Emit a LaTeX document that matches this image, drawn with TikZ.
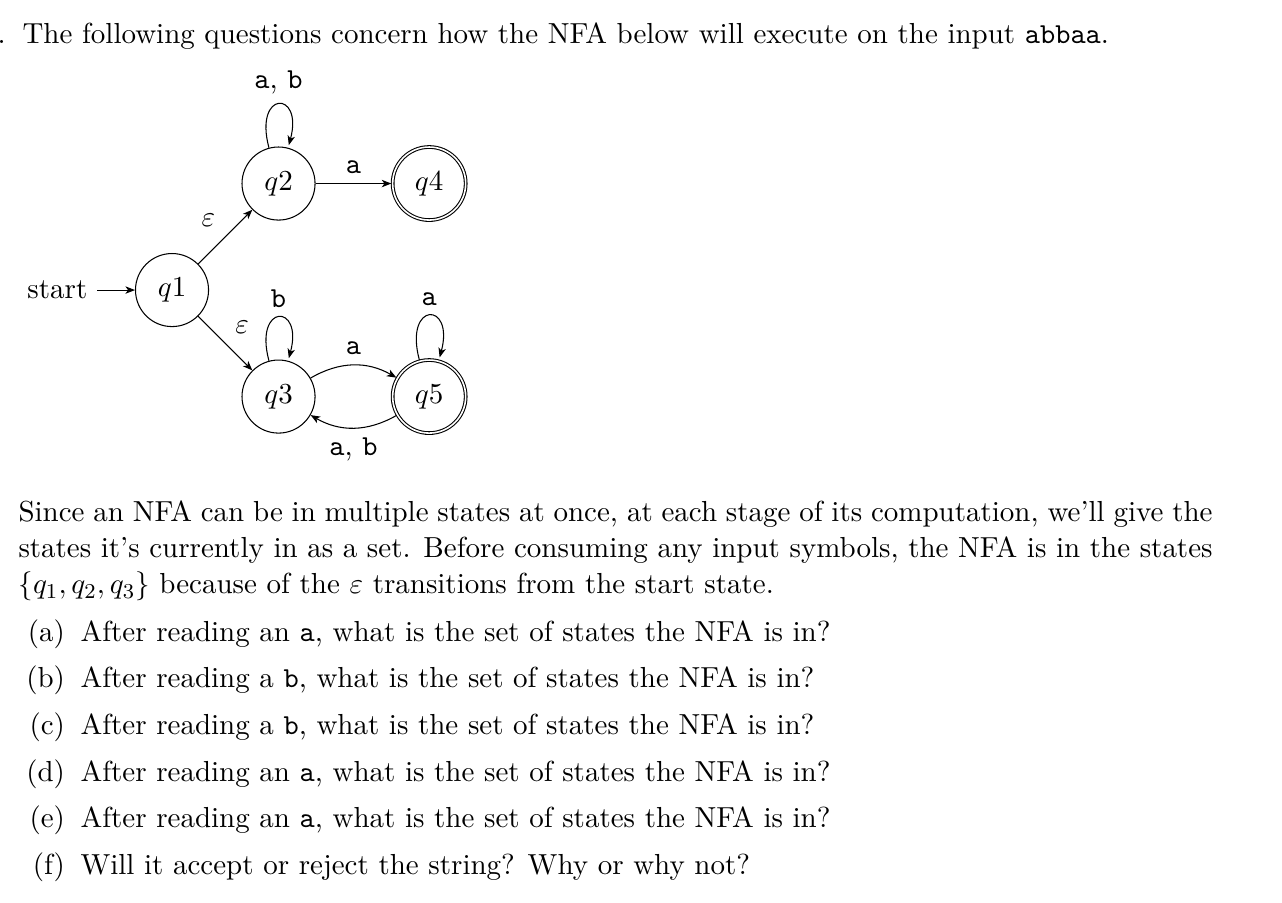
\documentclass[tikz,border=0pt,11pt]{standalone}
\usetikzlibrary{automata, positioning, arrows.meta}

\begin{document}
\begin{tikzpicture}[
    node distance=2cm, on grid, auto,
    >={Stealth[length=3.6pt, width=2.8pt, inset=1pt]},
    every state/.style={minimum size=27.6pt, inner sep=0pt},
    initial text=start,
    line/.style={anchor=base west, inner sep=0pt},
    itemlabel/.style={anchor=base east, inner sep=0pt},
    itemtext/.style={anchor=base west, inner sep=0pt}
]
\useasboundingbox (0,0) rectangle (17.022,-11.977);

% Question header
\node[line] (dot) at (-0.04,-0.571) {.};
\node[line] (head) at (0.292,-0.571) {The following questions concern how the NFA below will execute on the input \texttt{abbaa}.};

% States
\node[state, initial] (q1) at (2.284,-3.851) {$q1$};
\node[state, above right=of q1] (q2) {$q2$};
\node[state, below right=of q1] (q3) {$q3$};
\node[state, accepting, right=of q2] (q4) {$q4$};
\node[state, accepting, right=of q3] (q5) {$q5$};

% Transitions
\path[->] (q1) edge node {$\varepsilon$} (q2)
               edge node {$\varepsilon$} (q3)
          (q2) edge[loop above] node {\texttt{a}, \texttt{b}} ()
               edge node {\texttt{a}} (q4)
          (q3) edge[loop above] node {\texttt{b}} ()
               edge[bend left] node {\texttt{a}} (q5)
          (q5) edge[loop above] node {\texttt{a}} ()
               edge[bend left] node {\texttt{a}, \texttt{b}} (q3);

% Paragraph
\node[line] (par1) at (0.239,-6.93) {\makebox[15.854cm][s]{Since an NFA can be in multiple states at once, at each stage of its computation, we'll give the}};
\node[line] (par2) at (0.239,-7.408) {\makebox[15.854cm][s]{states it's currently in as a set. Before consuming any input symbols, the NFA is in the states}};
\node[line] (par3) at (0.239,-7.886) {$\{q_1, q_2, q_3\}$ because of the $\varepsilon$ transitions from the start state.};

% Sub-questions
\node[itemlabel] (la) at (0.870,-8.511) {(a)};
\node[itemtext] (ta) at (1.062,-8.511) {After reading an \texttt{a}, what is the set of states the NFA is in?};
\node[itemlabel] (lb) at (0.870,-9.132) {(b)};
\node[itemtext] (tb) at (1.062,-9.132) {After reading a \texttt{b}, what is the set of states the NFA is in?};
\node[itemlabel] (lc) at (0.870,-9.752) {(c)};
\node[itemtext] (tc) at (1.062,-9.752) {After reading a \texttt{b}, what is the set of states the NFA is in?};
\node[itemlabel] (ld) at (0.870,-10.373) {(d)};
\node[itemtext] (td) at (1.062,-10.373) {After reading an \texttt{a}, what is the set of states the NFA is in?};
\node[itemlabel] (le) at (0.870,-10.993) {(e)};
\node[itemtext] (te) at (1.062,-10.993) {After reading an \texttt{a}, what is the set of states the NFA is in?};
\node[itemlabel] (lf) at (0.870,-11.614) {(f)};
\node[itemtext] (tf) at (1.062,-11.614) {Will it accept or reject the string? Why or why not?};

\end{tikzpicture}
\end{document}
